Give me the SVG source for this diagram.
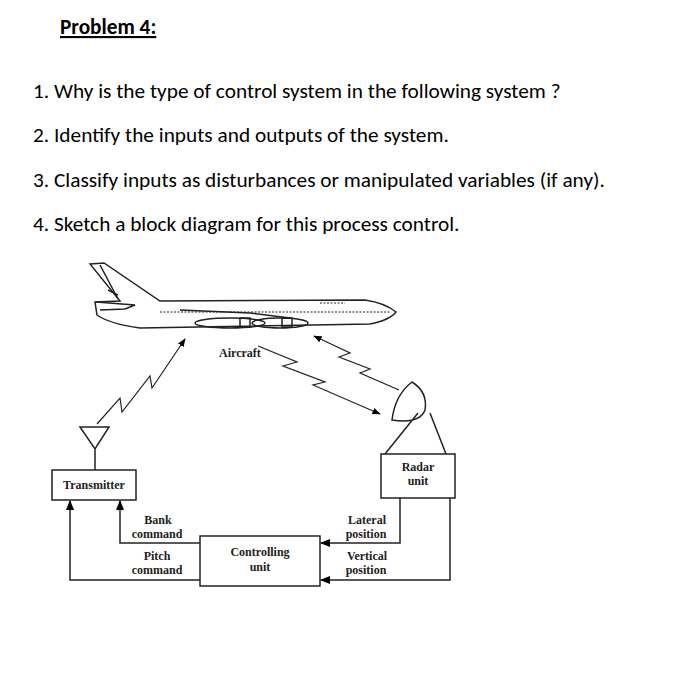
<svg xmlns="http://www.w3.org/2000/svg" width="680" height="700" viewBox="0 0 680 700">
<defs><marker id="a" viewBox="0 0 10 10" refX="9" refY="5" markerWidth="7" markerHeight="7" orient="auto-start-reverse"><path d="M0,1 L10,5 L0,9 z" fill="#000"/></marker></defs>
<style>
.q{font-family:Calibri,Carlito,"Liberation Sans",sans-serif;font-size:21.3px;fill:#000}
.s{font-family:"Liberation Serif",serif;font-size:12px;font-weight:bold;fill:#222;text-anchor:middle}
.l{fill:none;stroke:#222;stroke-width:1.5}
</style>
<rect width="680" height="700" fill="#fff"/>
<text x="60" y="34" class="q" font-weight="bold" font-size="27" text-decoration="underline">Problem 4:</text>
<text x="33" y="98" class="q">1. Why is the type of control system in the following system ?</text>
<text x="33" y="142" class="q">2. Identify the inputs and outputs of the system.</text>
<text x="33" y="187" class="q">3. Classify inputs as disturbances or manipulated variables (if any).</text>
<text x="33" y="231" class="q">4. Sketch a block diagram for this process control.</text>
<g id="aircraft" class="l" stroke-width="1.2">
<path d="M90,264 L104,263 L160,301 L365,300 Q385,303 396,312 Q390,320 370,324 L140,328 Q110,324 97,315 L95,302 L120,301 Z"/>
<path d="M96,302 L135,305 L125,309 L100,310"/>
<path d="M100,265 L118,299 M108,290 L118,295"/>
<path d="M180,310 L250,313 L290,318"/>
<ellipse cx="230" cy="323" rx="35" ry="5"/><ellipse cx="280" cy="323" rx="28" ry="5"/>
<rect x="240" y="318" width="10" height="9"/><rect x="282" y="318" width="10" height="9"/>
<path d="M160,312 H390 M320,303 H345" stroke-dasharray="2,1.5" stroke-width="1"/>
<text x="240" y="357" class="s" stroke="none" font-size="12">Aircraft</text>
</g>
<g id="transmitter"><rect x="52" y="470" width="84" height="30" class="l"/><text x="94" y="489" class="s">Transmitter</text>
<path d="M80,427 L109,427 L95,449 Z M95,449 V470" class="l"/></g>
<g id="radar"><rect x="381" y="454" width="74" height="44" class="l"/><text x="418" y="471" class="s">Radar</text><text x="418" y="485" class="s">unit</text>
<path d="M392,420 Q395,395 412,382 Q428,392 425,410 Q420,424 392,420 Z M418,413 L385,454 M430,413 L446,454" class="l"/></g>
<g id="controller"><rect x="200" y="536" width="120" height="50" class="l"/><text x="260" y="556" class="s">Controlling</text><text x="260" y="571" class="s">unit</text></g>
<g id="connectors" class="l">
<path d="M97,424 L120,398 L122,412 L150,376 L152,388 L185,339" marker-end="url(#a)" stroke-width="1.2"/>
<path d="M258,346 L297,362 L283,366 L325,382 L313,385 L380,414" marker-end="url(#a)" stroke-width="1.2"/>
<path d="M399,390 L360,373 L370,369 L339,357 L350,353 L314,336" marker-end="url(#a)" stroke-width="1.2"/>
<path d="M200,543 H120 V501" marker-end="url(#a)"/>
<path d="M200,580 H70 V501" marker-end="url(#a)"/>
<path d="M400,498 V543 H321" marker-end="url(#a)"/>
<path d="M450,498 V580 H321" marker-end="url(#a)"/>
</g>
<g class="s"><text x="158" y="524">Bank</text><text x="157" y="538">command</text><text x="157" y="560">Pitch</text><text x="157" y="574">command</text>
<text x="367" y="524">Lateral</text><text x="366" y="538">position</text><text x="367" y="560">Vertical</text><text x="366" y="574">position</text></g>
</svg>
